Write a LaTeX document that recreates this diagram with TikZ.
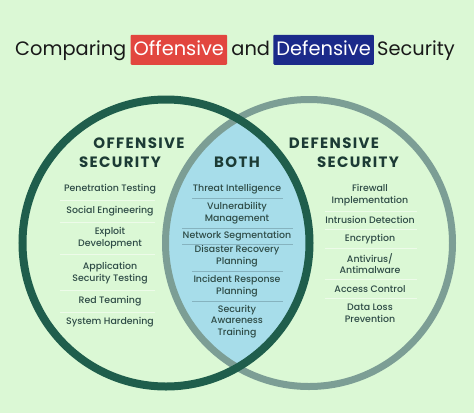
\documentclass[tikz,border=0pt]{standalone}
\usepackage{fontspec}
\setmainfont{Poppins}
\newfontfamily\itemfont{Poppins Medium}
\usetikzlibrary{
  calc,
  positioning
}
\definecolor{bgFill}{HTML}{DBF8D5}
\definecolor{lensFill}{HTML}{A7DDEA}
\definecolor{offRing}{HTML}{1F5E4C}
\definecolor{defRing}{HTML}{7C9E95}
\definecolor{headText}{HTML}{1C3B35}
\definecolor{itemText}{HTML}{2E4B46}
\definecolor{offRed}{HTML}{E2463F}
\definecolor{defNavy}{HTML}{1B2A8A}
\definecolor{sepGreen}{HTML}{EDFBE9}
\definecolor{sepBlue}{HTML}{86B3BF}
\tikzset{
  titletext/.style={font=\fontsize{19.4}{23}\selectfont, text=black!90,
    inner sep=0pt, text height=14.5pt, text depth=4pt},
  titlebox/.style={titletext, fill=#1, text=white, rounded corners=1pt,
    inner xsep=3pt, minimum height=30pt},
  heading/.style={font=\fontsize{15}{18}\selectfont\bfseries\addfontfeatures{LetterSpace=9},
    text=headText, inner sep=0pt},
  item/.style={font=\itemfont\fontsize{9.4}{11.8}\selectfont, text=itemText, align=center,
    inner sep=0pt},
  sep/.style={draw=#1, line width=0.6pt},
  ring/.style={draw=#1, line width=8pt}
}
\begin{document}
\begin{tikzpicture}[x=1pt, y=-1pt]

\fill[bgFill] (0,0) rectangle (474,413);
\useasboundingbox (0,0) rectangle (474,413);

% --- Title ---
\node[titletext, anchor=base west] (cmp) at (15,55) {Comparing};
\node[titlebox=offRed, anchor=base west, xshift=4pt] (off) at (cmp.base east) {Offensive};
\node[titletext, anchor=base west, xshift=4pt] (and) at (off.base east) {and};
\node[titlebox=defNavy, anchor=base west, xshift=3pt] (def) at (and.base east) {Defensive};
\node[titletext, anchor=base west, xshift=3pt] (sec) at (def.base east) {Security};

% --- Venn ---
\coordinate (cl) at (166,243);
\coordinate (cr) at (309,243);
\begin{scope}
  \clip (cl) circle (143.5pt);
  \fill[lensFill] (cr) circle (143.5pt);
\end{scope}
\draw[ring=defRing, line width=7pt] (cr) circle (143.5pt);
\draw[ring=offRing] (cl) circle (143.5pt);

% --- Headings ---
\node[heading] (offh1) at (139,143) {OFFENSIVE};
\node[heading] (offh2) at (120,162) {SECURITY};
\node[heading] (both) at (237,162) {BOTH};
\node[heading] (defh1) at (334,143) {DEFENSIVE};
\node[heading] (defh2) at (358,162) {SECURITY};

% --- Offensive items ---
\node[item] (o1) at (110,189) {Penetration Testing};
\node[item] (o2) at (110,211) {Social Engineering};
\node[item] (o3) at (110,238.5) {Exploit\\Development};
\node[item] (o4) at (110,273.5) {Application\\Security Testing};
\node[item] (o5) at (110,301) {Red Teaming};
\node[item] (o6) at (110,322) {System Hardening};

\draw[sep=sepGreen] (60,200.5) -- (155,200.5);
\draw[sep=sepGreen] (60,222) -- (155,222);
\draw[sep=sepGreen] (60,254) -- (155,254);
\draw[sep=sepGreen] (60,290) -- (155,290);
\draw[sep=sepGreen] (60,312) -- (155,312);

% --- Shared items ---
\node[item] (b1) at (237,189) {Threat Intelligence};
\node[item] (b2) at (237,213) {Vulnerability\\Management};
\node[item] (b3) at (237,236) {Network Segmentation};
\node[item] (b4) at (237,256.5) {Disaster Recovery\\Planning};
\node[item] (b5) at (237,286) {Incident Response\\Planning};
\node[item] (b6) at (237,321.5) {Security\\Awareness\\Training};

\draw[sep=sepBlue] (192,198) -- (283,198);
\draw[sep=sepBlue] (182,228) -- (293,228);
\draw[sep=sepBlue] (182,244) -- (293,244);
\draw[sep=sepBlue] (192,271) -- (283,271);
\draw[sep=sepBlue] (192,301) -- (283,301);

% --- Defensive items ---
\node[item] (d1) at (370,195) {Firewall\\Implementation};
\node[item] (d2) at (370,220) {Intrusion Detection};
\node[item] (d3) at (370,239) {Encryption};
\node[item] (d4) at (370,263.5) {Antivirus/\\Antimalware};
\node[item] (d5) at (370,289) {Access Control};
\node[item] (d6) at (370,313.5) {Data Loss\\Prevention};

\draw[sep=sepGreen] (325,211) -- (417,211);
\draw[sep=sepGreen] (325,229) -- (417,229);
\draw[sep=sepGreen] (325,248) -- (417,248);
\draw[sep=sepGreen] (325,279) -- (417,279);
\draw[sep=sepGreen] (325,298) -- (417,298);

\end{tikzpicture}
\end{document}
